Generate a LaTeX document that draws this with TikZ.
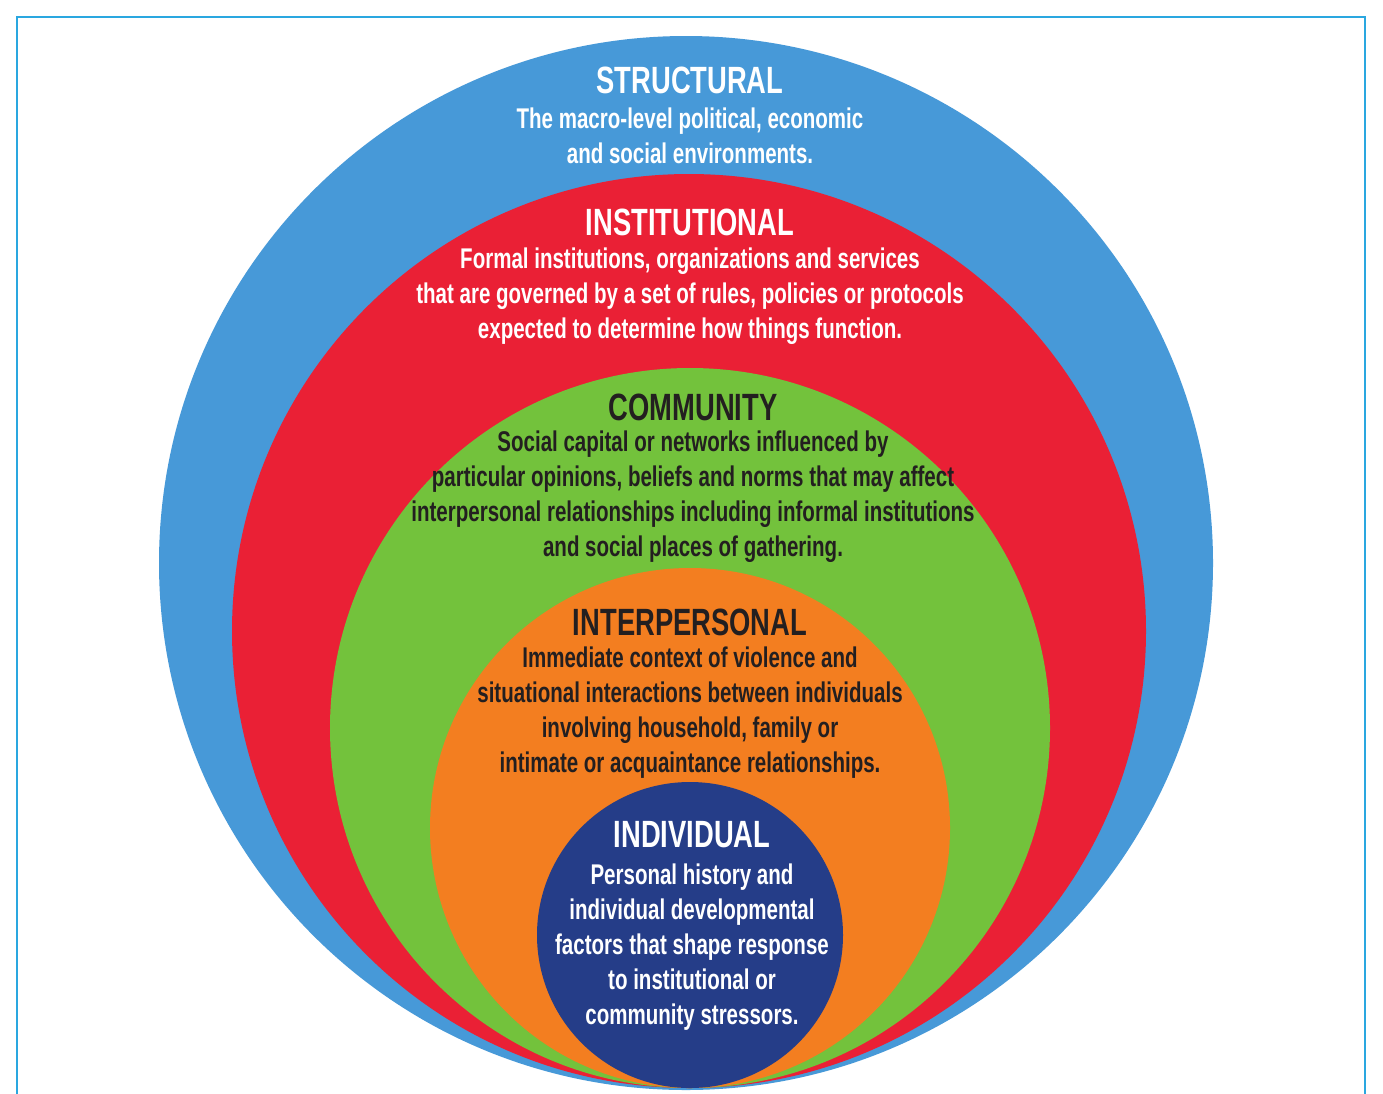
\documentclass[tikz,border=0pt]{standalone}
\usepackage{fontspec}
\setmainfont{Liberation Sans}[FakeStretch=0.72]
\definecolor{cblue}{HTML}{4799D8}
\definecolor{cred}{HTML}{EA2035}
\definecolor{cgreen}{HTML}{73C23C}
\definecolor{corange}{HTML}{F37E20}
\definecolor{cnavy}{HTML}{253D88}
\definecolor{cframe}{HTML}{2AA7E0}
\definecolor{cdark}{HTML}{231F20}
\tikzset{
  ring/.style={draw=none},
  ttl/.style={font=\fontsize{38}{40}\selectfont\bfseries, inner sep=0pt},
  body/.style={font=\fontsize{28.5}{35}\selectfont\bfseries, align=center, inner sep=0pt}
}
\begin{document}
\begin{tikzpicture}[x=1pt,y=-1pt]
\useasboundingbox (0,0) rectangle (1383,1093);
\fill[white] (0,0) rectangle (1383,1093);
\draw[cframe, line width=1.8pt] (17,1110) -- (17,17) -- (1365,17) -- (1365,1110);
\fill[cblue] (686,563) circle (527);
\fill[cred] (689,631) circle (457);
\fill[cgreen] (690,728) circle (360);
\fill[corange] (690,828) circle (260);
\fill[cnavy] (690,935) circle (153);
\node[ttl, white] (t1) at (690,80) {STRUCTURAL};
\node[body, white] (b1) at (690,135.5) {The macro-level political, economic\\and social environments.};
\node[ttl, white] (t2) at (690,222) {INSTITUTIONAL};
\node[body, white] (b2) at (690,296) {Formal institutions, organizations and services\\that are governed by a set of rules, policies or protocols\\expected to determine how things function.};
\node[ttl, cdark] (t3) at (693,407) {COMMUNITY};
\node[body, cdark] (b3) at (693,496.5) {Social capital or networks influenced by\\particular opinions, beliefs and norms that may affect\\interpersonal relationships including informal institutions\\and social places of gathering.};
\node[ttl, cdark] (t4) at (690,622) {INTERPERSONAL};
\node[body, cdark] (b4) at (690,713) {Immediate context of violence and\\situational interactions between individuals\\involving household, family or\\intimate or acquaintance relationships.};
\node[ttl, white] (t5) at (692,835) {INDIVIDUAL};
\node[body, white] (b5) at (692,947) {Personal history and\\individual developmental\\factors that shape response\\to institutional or\\community stressors.};
\end{tikzpicture}
\end{document}
